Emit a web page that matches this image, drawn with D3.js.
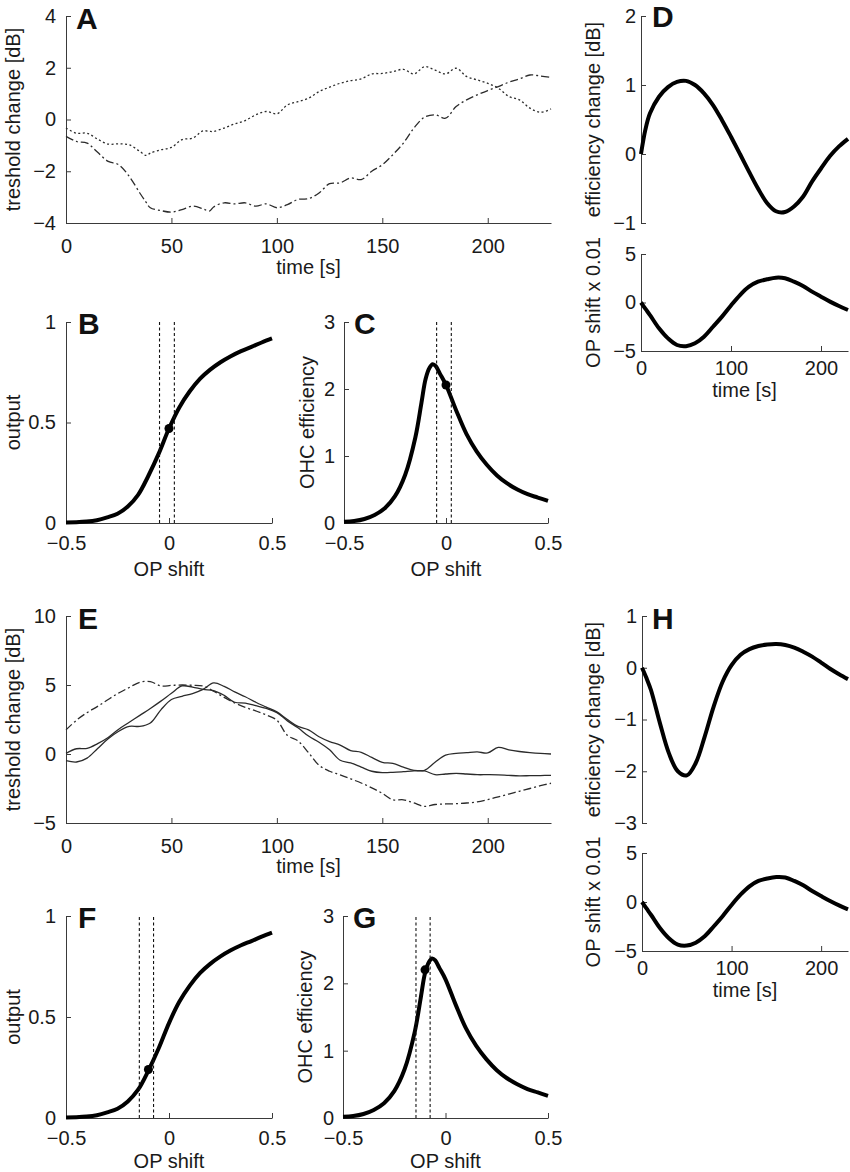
<!DOCTYPE html>
<html>
<head>
<meta charset="utf-8">
<script src="https://cdn.jsdelivr.net/npm/d3@7"></script>
<style>
    body { margin: 0; background: #fff; }
    svg { font-family: "Liberation Sans", Arial, Helvetica, sans-serif; }
    .axis path, .axis line { stroke: #3a3a3a; stroke-width: 1; }
    .axis text { font-size: 20px; fill: #1a1a1a; }
    .title { font-size: 20px; fill: #1a1a1a; }
    .letter { font-size: 30px; font-weight: bold; fill: #111; }
</style>
</head>
<body>
<svg id="fig" width="850" height="1172"></svg>
<script>
// ---- data ----
const timeA = [0, 5, 10, 15, 20, 25, 30, 35, 38, 40, 45, 50, 55, 60, 65, 68, 70, 75, 80, 85, 90, 95, 100, 105, 110, 115,
    120, 125, 130, 135, 140, 145, 150, 155, 160, 165, 170, 175, 180, 185, 190, 195, 200, 205, 210, 215, 220, 225, 230];
const thresholdA_dotted = [-0.33, -0.53, -0.53, -0.76, -0.95, -0.94, -0.98, -1.23, -1.39, -1.3, -1.17, -1.08, -0.78, -0.72,
    -0.44, -0.46, -0.46, -0.33, -0.17, -0.04, 0.18, 0.31, 0.22, 0.56, 0.69, 0.82, 1.08, 1.25, 1.4, 1.5, 1.57, 1.76, 1.78,
    1.85, 1.94, 1.76, 2.04, 1.91, 1.76, 1.98, 1.66, 1.53, 1.4, 1.21, 0.89, 0.76, 0.44, 0.28, 0.41];
const thresholdA_dashdot = [-0.65, -0.85, -0.91, -1.27, -1.62, -1.75, -2.2, -2.84, -3.2, -3.41, -3.52, -3.58, -3.48, -3.35,
    -3.45, -3.54, -3.38, -3.22, -3.26, -3.22, -3.35, -3.26, -3.41, -3.29, -3.09, -3.06, -2.84, -2.48, -2.45, -2.26, -2.32,
    -2.0, -1.75, -1.36, -0.91, -0.33, 0.09, 0.18, 0.05, 0.5, 0.76, 0.95, 1.12, 1.27, 1.44, 1.57, 1.72, 1.68, 1.63];

const timeE = d3.range(0, 231, 5);
const thresholdE_dashdot = [1.75, 2.45, 3.0, 3.45, 3.95, 4.42, 4.82, 5.2, 5.25, 4.93, 4.97, 5.0, 4.98, 4.93, 4.55, 4.1,
    3.7, 3.38, 3.12, 2.83, 2.45, 1.35, 0.95, 0.1, -0.82, -1.25, -1.51, -1.8, -2.1, -2.45, -2.85, -3.32, -3.32, -3.55, -3.8,
    -3.66, -3.62, -3.6, -3.55, -3.47, -3.3, -3.1, -2.9, -2.7, -2.5, -2.3, -2.12];
const thresholdE_solid1 = [-0.48, -0.58, -0.3, 0.4, 1.1, 1.65, 2.0, 2.0, 2.25, 3.2, 3.95, 4.18, 4.38, 4.68, 5.15, 4.9, 4.5,
    4.15, 3.75, 3.4, 3.05, 2.5, 2.0, 1.75, 1.25, 0.9, 0.65, 0.25, 0.12, -0.25, -0.6, -0.68, -0.95, -1.18, -1.18, -0.6, -0.08,
    0.05, 0.1, 0.15, 0.08, 0.48, 0.3, 0.18, 0.1, 0.04, 0.0];
const thresholdE_solid2 = [0.05, 0.38, 0.41, 0.75, 1.2, 1.8, 2.3, 2.8, 3.3, 3.83, 4.4, 4.93, 4.85, 4.68, 4.6, 4.25, 3.75,
    3.68, 3.5, 3.3, 3.0, 2.4, 1.9, 1.3, 0.85, 0.3, -0.45, -0.65, -0.95, -1.25, -1.35, -1.33, -1.28, -1.22, -1.22, -1.5, -1.45,
    -1.4, -1.45, -1.5, -1.5, -1.51, -1.55, -1.58, -1.57, -1.56, -1.55];

const opGrid = [-0.5, -0.45, -0.4, -0.35, -0.3, -0.25, -0.2, -0.15, -0.1, -0.05, 0, 0.05, 0.1, 0.15, 0.2, 0.25, 0.3, 0.35,
    0.4, 0.45, 0.5];
const outputCurve = [0.003, 0.004, 0.007, 0.014, 0.028, 0.046, 0.082, 0.14, 0.235, 0.345, 0.47, 0.575, 0.654, 0.717, 0.763,
    0.8, 0.83, 0.855, 0.876, 0.898, 0.918];
const effGrid = [-0.5, -0.45, -0.4, -0.35, -0.3, -0.25, -0.2, -0.15, -0.12, -0.1, -0.08, -0.065, -0.05, -0.03, 0, 0.05, 0.1,
    0.15, 0.2, 0.25, 0.3, 0.35, 0.4, 0.45, 0.5];
const ohcEfficiency = [0.02, 0.03, 0.06, 0.12, 0.22, 0.4, 0.72, 1.28, 1.8, 2.15, 2.32, 2.37, 2.34, 2.23, 2.06, 1.68, 1.33,
    1.07, 0.87, 0.71, 0.59, 0.5, 0.43, 0.38, 0.33];

// operating point (dot) and range (dashed lines), upper row and lower row
const opRangeTop = [-0.046, 0.026];
const opPointTop = [0, 0.47, 2.06];   // shift, output, efficiency
const opRangeBottom = [-0.144, -0.075];
const opPointBottom = [-0.1, 0.24, 2.2];

const timeD = [0, 5, 10, 20, 30, 40, 50, 60, 70, 80, 90, 100, 110, 120, 130, 140, 150, 160, 170, 180, 190, 200, 210, 220, 230];
const effChangeD = [0, 0.36, 0.59, 0.83, 0.97, 1.045, 1.06, 1.0, 0.88, 0.71, 0.49, 0.25, 0, -0.255, -0.5, -0.71, -0.83,
    -0.84, -0.76, -0.62, -0.4, -0.21, -0.03, 0.11, 0.22];
const opShiftD = [0, -0.66, -1.3, -2.66, -3.7, -4.38, -4.5, -4.2, -3.52, -2.5, -1.46, -0.3, 0.77, 1.63, 2.15, 2.39, 2.56,
    2.5, 2.15, 1.7, 1.12, 0.6, 0.09, -0.36, -0.77];
const effChangeH = [0, -0.2, -0.43, -1.07, -1.65, -2.0, -2.08, -1.84, -1.33, -0.75, -0.27, 0.05, 0.25, 0.36, 0.42, 0.45,
    0.46, 0.44, 0.39, 0.31, 0.215, 0.1, -0.02, -0.125, -0.22];
const opShiftH = [0, -0.66, -1.3, -2.66, -3.7, -4.35, -4.45, -4.15, -3.5, -2.5, -1.45, -0.3, 0.75, 1.6, 2.15, 2.4, 2.55,
    2.5, 2.15, 1.7, 1.12, 0.6, 0.1, -0.35, -0.75];

const timeTicksLong = [0, 50, 100, 150, 200];
const timeTicksShort = [0, 100, 200];
const opTicks = [-0.5, 0, 0.5];

// ---- drawing ----
const svg = d3.select("#fig");
const fmt = d => (d < 0 ? "\u2212" : "") + Math.abs(d);

function makePanel(cfg) {
    let x = d3.scaleLinear().domain(cfg.xDomain).range([cfg.left, cfg.right]);
    let y = d3.scaleLinear().domain(cfg.yDomain).range([cfg.bottom, cfg.top]);
    let g = svg.append("g");

    g.append("g").attr("class", "axis")
        .attr("transform", `translate(${cfg.left},0)`)
        .call(d3.axisLeft(y).tickValues(cfg.yTicks).tickFormat(fmt)
            .tickSize(-5).tickSizeOuter(0).tickPadding(cfg.yPad));

    if (cfg.xTicks) {
        g.append("g").attr("class", "axis")
            .attr("transform", `translate(0,${cfg.bottom})`)
            .call(d3.axisBottom(x).tickValues(cfg.xTicks).tickFormat(fmt)
                .tickSize(-5).tickSizeOuter(0).tickPadding(cfg.xPad));
    }
    if (cfg.xTitle) {
        g.append("text").attr("class", "title")
            .attr("x", (cfg.left + cfg.right) / 2)
            .attr("y", cfg.xTitleY)
            .attr("text-anchor", "middle")
            .text(cfg.xTitle);
    }
    g.append("text").attr("class", "title")
        .attr("transform", `translate(${cfg.yTitleX},${(cfg.top + cfg.bottom) / 2}) rotate(-90)`)
        .attr("dy", "0.35em")
        .attr("text-anchor", "middle")
        .text(cfg.yTitle);
    if (cfg.letter) {
        g.append("text").attr("class", "letter")
            .attr("x", cfg.letterX).attr("y", cfg.letterY)
            .text(cfg.letter);
    }
    return { g, x, y };
}

function drawLine(p, xs, ys, style) {
    let line = d3.line()
        .x((d, i) => p.x(xs[i]))
        .y(d => p.y(d))
        .curve(d3.curveCatmullRom.alpha(0.5));
    p.g.append("path")
        .datum(ys)
        .attr("fill", "none")
        .attr("stroke", style.color || "#000")
        .attr("stroke-width", style.width)
        .attr("stroke-dasharray", style.dash || null)
        .attr("stroke-linejoin", "round")
        .attr("d", line);
}

function drawOperatingPoint(p, range, px, py) {
    p.g.selectAll(".oprange").data(range).enter().append("line")
        .attr("x1", d => p.x(d)).attr("x2", d => p.x(d))
        .attr("y1", p.y.range()[0]).attr("y2", p.y.range()[1])
        .attr("stroke", "#111").attr("stroke-width", 1.1)
        .attr("stroke-dasharray", "3,2.5");
    p.g.append("circle")
        .attr("cx", p.x(px)).attr("cy", p.y(py)).attr("r", 4.5)
        .attr("fill", "#000");
}

const thin = { width: 1.3, color: "#2b2b2b" };
const thick = { width: 4 };

// A
let pA = makePanel({
    xDomain: [0, 230], yDomain: [-4, 4], left: 66, right: 551, top: 16, bottom: 223,
    yTicks: [-4, -2, 0, 2, 4], xTicks: timeTicksLong, yPad: 10, xPad: 16,
    xTitle: "time [s]", xTitleY: 274, yTitle: "treshold change [dB]", yTitleX: 13,
    letter: "A", letterX: 76, letterY: 29
});
drawLine(pA, timeA, thresholdA_dotted, { ...thin, dash: "2,2.5" });
drawLine(pA, timeA, thresholdA_dashdot, { ...thin, dash: "8,3,2,3" });

// B
let pB = makePanel({
    xDomain: [-0.5, 0.5], yDomain: [0, 1], left: 66, right: 272, top: 322, bottom: 523,
    yTicks: [0, 0.5, 1], xTicks: opTicks, yPad: 10, xPad: 13,
    xTitle: "OP shift", xTitleY: 576, yTitle: "output", yTitleX: 13,
    letter: "B", letterX: 78, letterY: 334
});
drawLine(pB, opGrid, outputCurve, thick);
drawOperatingPoint(pB, opRangeTop, opPointTop[0], opPointTop[1]);

// C
let pC = makePanel({
    xDomain: [-0.5, 0.5], yDomain: [0, 3], left: 344, right: 548, top: 322, bottom: 523,
    yTicks: [0, 1, 2, 3], xTicks: opTicks, yPad: 9, xPad: 13,
    xTitle: "OP shift", xTitleY: 576, yTitle: "OHC efficiency", yTitleX: 307,
    letter: "C", letterX: 354, letterY: 334
});
drawLine(pC, effGrid, ohcEfficiency, thick);
drawOperatingPoint(pC, opRangeTop, opPointTop[0], opPointTop[2]);

// D
let pD1 = makePanel({
    xDomain: [0, 230], yDomain: [-1, 2], left: 641, right: 848, top: 16, bottom: 223,
    yTicks: [-1, 0, 1, 2], yPad: 5,
    yTitle: "efficiency change [dB]", yTitleX: 593,
    letter: "D", letterX: 652, letterY: 27
});
drawLine(pD1, timeD, effChangeD, thick);
let pD2 = makePanel({
    xDomain: [0, 230], yDomain: [-5, 5], left: 641, right: 848, top: 254, bottom: 351,
    yTicks: [-5, 0, 5], xTicks: timeTicksShort, yPad: 5, xPad: 10,
    xTitle: "time [s]", xTitleY: 397, yTitle: "OP shift x 0.01", yTitleX: 593
});
drawLine(pD2, timeD, opShiftD, thick);

// E
let pE = makePanel({
    xDomain: [0, 230], yDomain: [-5, 10], left: 66, right: 551, top: 616, bottom: 823,
    yTicks: [-5, 0, 5, 10], xTicks: timeTicksLong, yPad: 10, xPad: 16,
    xTitle: "time [s]", xTitleY: 873, yTitle: "treshold change [dB]", yTitleX: 13,
    letter: "E", letterX: 78, letterY: 629
});
drawLine(pE, timeE, thresholdE_dashdot, { ...thin, dash: "8,3,2,3" });
drawLine(pE, timeE, thresholdE_solid1, thin);
drawLine(pE, timeE, thresholdE_solid2, thin);

// F
let pF = makePanel({
    xDomain: [-0.5, 0.5], yDomain: [0, 1], left: 66, right: 272, top: 916, bottom: 1118,
    yTicks: [0, 0.5, 1], xTicks: opTicks, yPad: 10, xPad: 13,
    xTitle: "OP shift", xTitleY: 1168, yTitle: "output", yTitleX: 13,
    letter: "F", letterX: 78, letterY: 928
});
drawLine(pF, opGrid, outputCurve, thick);
drawOperatingPoint(pF, opRangeBottom, opPointBottom[0], opPointBottom[1]);

// G
let pG = makePanel({
    xDomain: [-0.5, 0.5], yDomain: [0, 3], left: 343, right: 548, top: 916, bottom: 1118,
    yTicks: [0, 1, 2, 3], xTicks: opTicks, yPad: 9, xPad: 13,
    xTitle: "OP shift", xTitleY: 1168, yTitle: "OHC efficiency", yTitleX: 305,
    letter: "G", letterX: 353, letterY: 928
});
drawLine(pG, effGrid, ohcEfficiency, thick);
drawOperatingPoint(pG, opRangeBottom, opPointBottom[0], opPointBottom[2]);

// H
let pH1 = makePanel({
    xDomain: [0, 230], yDomain: [-3, 1], left: 642, right: 848, top: 616, bottom: 823,
    yTicks: [-3, -2, -1, 0, 1], yPad: 5,
    yTitle: "efficiency change [dB]", yTitleX: 593,
    letter: "H", letterX: 652, letterY: 629
});
drawLine(pH1, timeD, effChangeH, thick);
let pH2 = makePanel({
    xDomain: [0, 230], yDomain: [-5, 5], left: 642, right: 848, top: 853, bottom: 951,
    yTicks: [-5, 0, 5], xTicks: timeTicksShort, yPad: 5, xPad: 10,
    xTitle: "time [s]", xTitleY: 997, yTitle: "OP shift x 0.01", yTitleX: 593
});
drawLine(pH2, timeD, opShiftH, thick);
</script>
</body>
</html>
